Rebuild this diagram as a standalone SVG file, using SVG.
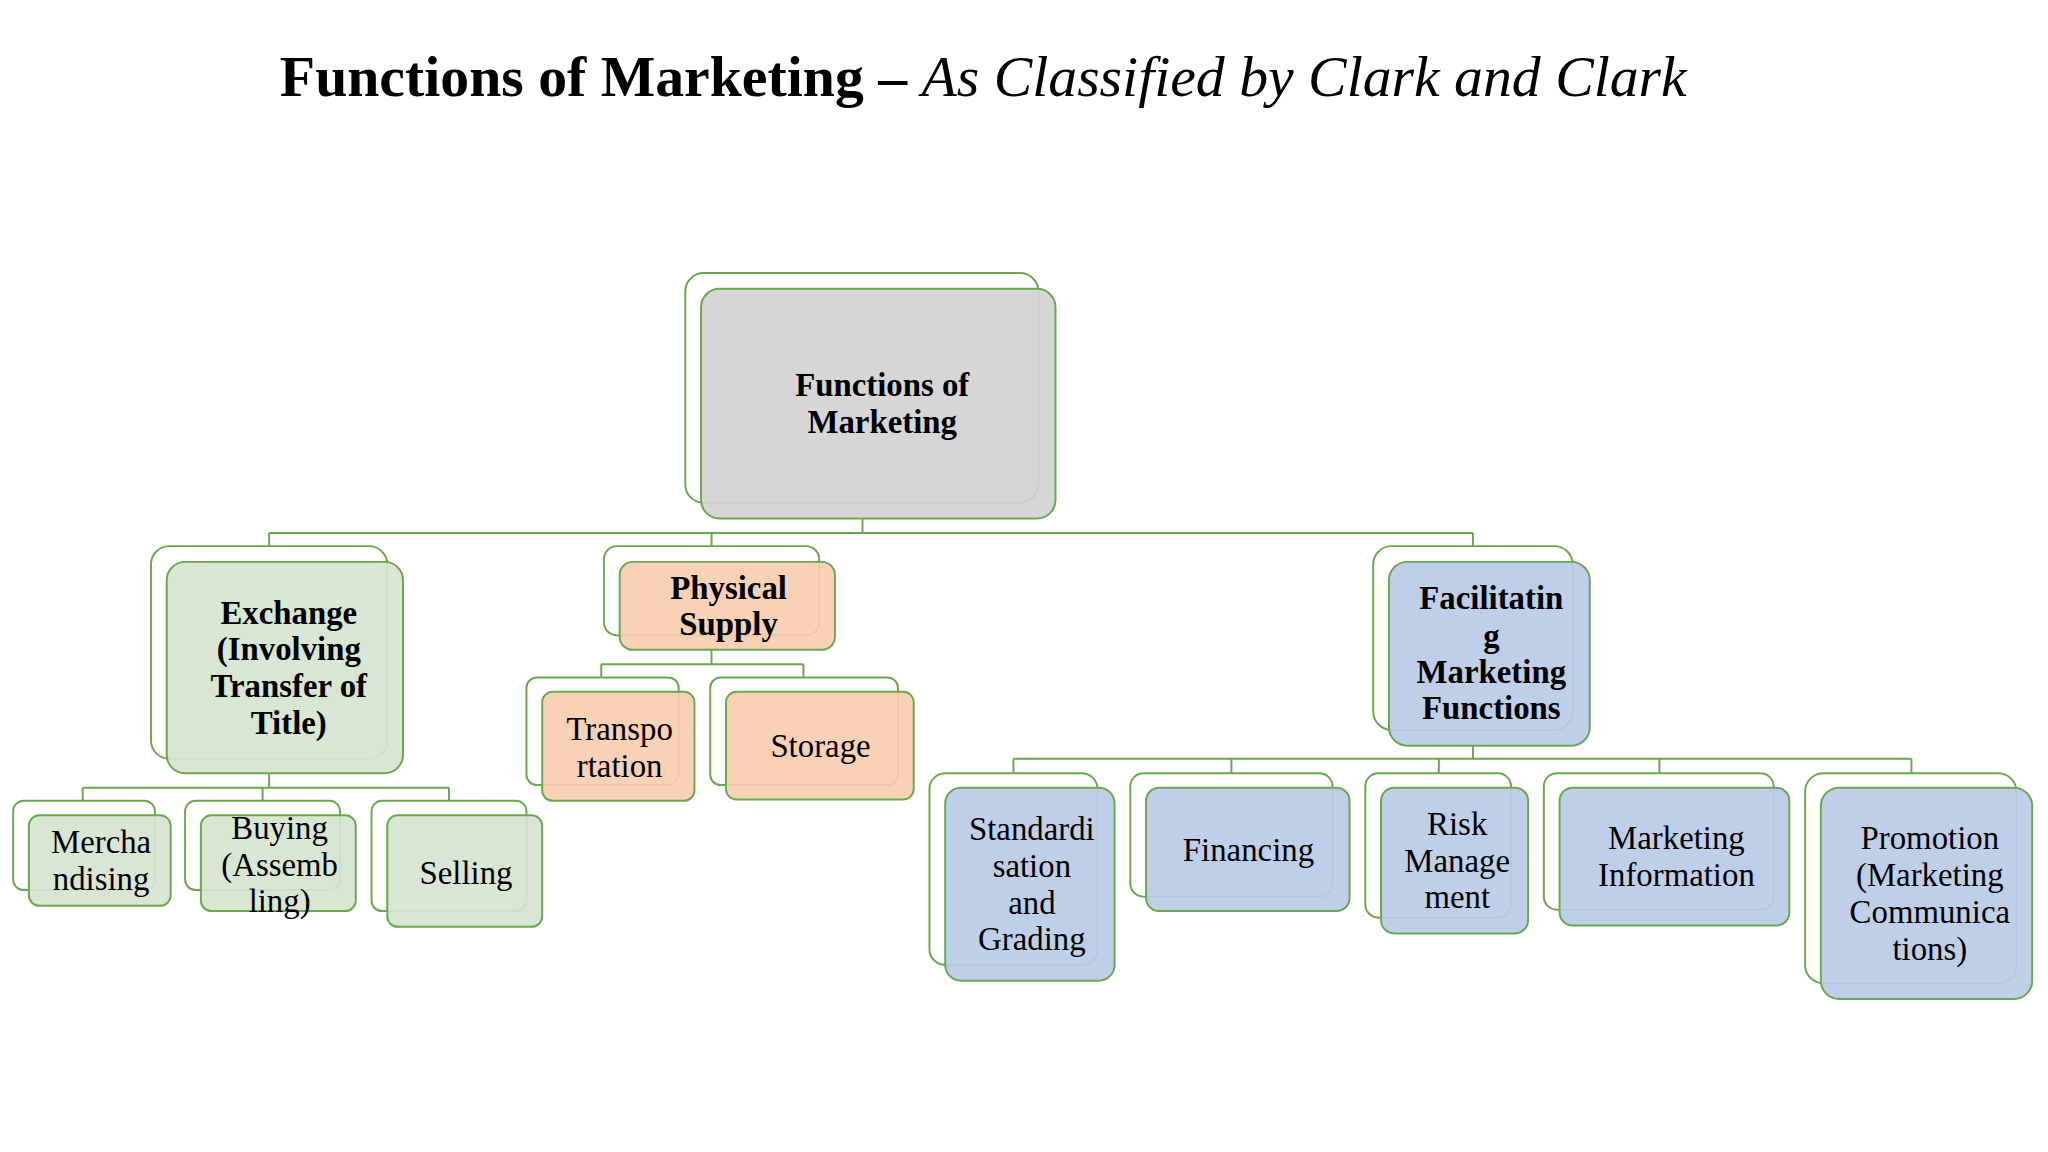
<svg xmlns="http://www.w3.org/2000/svg" width="2048" height="1152" viewBox="0 0 2048 1152">
<style>
.bk{fill:#fff;stroke:#6aa84f;stroke-width:1.5}
.fr{stroke:#6aa84f;stroke-width:1.5;fill-opacity:0.92}
.g{fill:#d4d3d4}.gr{fill:#d7e4d0}.o{fill:#f7cdb0}.b{fill:#bbcbe7}
text{font-family:"Liberation Serif","Times New Roman",serif;font-size:25px;fill:#000;text-anchor:middle}
.bd{font-weight:bold}
.c{fill:none;stroke:#6aa84f;stroke-width:1.5}
</style>
<rect width="2048" height="1152" fill="#fff"/>
<g transform="scale(1.3128)">
<text x="749" y="73" style="font-size:44px"><tspan font-weight="bold">Functions of Marketing – </tspan><tspan font-style="italic">As Classified by Clark and Clark</tspan></text>
<g id="connectors" class="c">
<path d="M657 395V406M205 406H1122M205 406V416M542 406V416M1122 406V416"/>
<path d="M205 589V600M63 600H342M63 600V610M200 600V610M342 600V610"/>
<path d="M542 495V506M458 506H612M458 506V516M612 506V516"/>
<path d="M1122 568V578M772 578H1456M772 578V589M938 578V589M1096 578V589M1264 578V589M1456 578V589"/>
</g>
<g id="root"><rect class="bk" x="522" y="208" width="269" height="175" rx="14"/><rect class="fr g" x="534" y="220" width="270" height="175" rx="14"/><text class="bd" x="672" y="302">Functions of</text><text class="bd" x="672" y="330">Marketing</text></g>
<g id="exchange"><rect class="bk" x="115" y="416" width="180" height="162" rx="14"/><rect class="fr gr" x="127" y="428" width="180" height="161" rx="14"/><text class="bd" x="220" y="475">Exchange</text><text class="bd" x="220" y="503">(Involving</text><text class="bd" x="220" y="531">Transfer of</text><text class="bd" x="220" y="559">Title)</text></g>
<g id="physical"><rect class="bk" x="460" y="416" width="164" height="68" rx="10"/><rect class="fr o" x="472" y="428" width="164" height="67" rx="10"/><text class="bd" x="555" y="456">Physical</text><text class="bd" x="555" y="484">Supply</text></g>
<g id="facilitating"><rect class="bk" x="1046" y="416" width="152" height="140" rx="14"/><rect class="fr b" x="1058" y="428" width="153" height="140" rx="14"/><text class="bd" x="1136" y="464">Facilitatin</text><text class="bd" x="1136" y="493">g</text><text class="bd" x="1136" y="520">Marketing</text><text class="bd" x="1136" y="548">Functions</text></g>
<g id="merch"><rect class="bk" x="10" y="610" width="108" height="68" rx="8"/><rect class="fr gr" x="22" y="621" width="108" height="69" rx="8"/><text x="77" y="650">Mercha</text><text x="77" y="678">ndising</text></g>
<g id="buying"><rect class="bk" x="141" y="610" width="118" height="68" rx="8"/><rect class="fr gr" x="153" y="621" width="118" height="73" rx="8"/><text x="213" y="639">Buying</text><text x="213" y="667">(Assemb</text><text x="213" y="695">ling)</text></g>
<g id="selling"><rect class="bk" x="283" y="610" width="118" height="84" rx="8"/><rect class="fr gr" x="295" y="621" width="118" height="85" rx="8"/><text x="355" y="673">Selling</text></g>
<g id="transport"><rect class="bk" x="401" y="516" width="116" height="82" rx="8"/><rect class="fr o" x="413" y="527" width="116" height="83" rx="8"/><text x="472" y="564">Transpo</text><text x="472" y="592">rtation</text></g>
<g id="storage"><rect class="bk" x="541" y="516" width="143" height="82" rx="8"/><rect class="fr o" x="553" y="527" width="143" height="82" rx="8"/><text x="625" y="577">Storage</text></g>
<g id="standard"><rect class="bk" x="708" y="589" width="128" height="146" rx="12"/><rect class="fr b" x="720" y="600" width="129" height="147" rx="12"/><text x="786" y="640">Standardi</text><text x="786" y="668">sation</text><text x="786" y="696">and</text><text x="786" y="724">Grading</text></g>
<g id="financing"><rect class="bk" x="861" y="589" width="154" height="94" rx="10"/><rect class="fr b" x="873" y="600" width="155" height="94" rx="10"/><text x="951" y="656">Financing</text></g>
<g id="risk"><rect class="bk" x="1040" y="589" width="111" height="110" rx="10"/><rect class="fr b" x="1052" y="600" width="112" height="111" rx="10"/><text x="1110" y="636">Risk</text><text x="1110" y="664">Manage</text><text x="1110" y="692">ment</text></g>
<g id="info"><rect class="bk" x="1176" y="589" width="175" height="104" rx="10"/><rect class="fr b" x="1188" y="600" width="175" height="105" rx="10"/><text x="1277" y="647">Marketing</text><text x="1277" y="675">Information</text></g>
<g id="promotion"><rect class="bk" x="1375" y="589" width="161" height="160" rx="14"/><rect class="fr b" x="1387" y="600" width="161" height="161" rx="14"/><text x="1470" y="647">Promotion</text><text x="1470" y="675">(Marketing</text><text x="1470" y="703">Communica</text><text x="1470" y="731">tions)</text></g>
</g>
</svg>
